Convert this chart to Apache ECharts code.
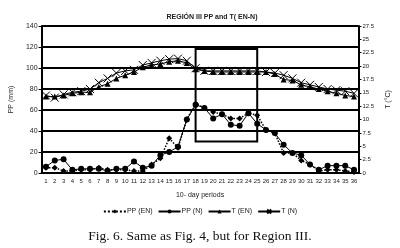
<!DOCTYPE html>
<html>
<head>
<meta charset="utf-8">
<script src="https://cdn.jsdelivr.net/npm/echarts@6/dist/echarts.min.js"></script>
<style>
  html, body { margin: 0; padding: 0; background: #fff; }
  #main { width: 400px; height: 248px; }
</style>
</head>
<body>
<div id="main"></div>
<script>
  // 10-day periods
  var periods = ['1','2','3','4','5','6','7','8','9','10','11','12','13','14','15','16','17','18',
    '19','20','21','22','23','24','25','26','27','28','29','30','31','32','33','34','35','36'];

  // precipitation (mm), left axis
  var ppEN = [5, 5, 2, 2, 3, 3, 5, 3, 3, 3, 2, 2, 8, 14, 33, 24, 51, 66,
    62, 58, 56, 52, 52, 57, 55, 41, 38, 19, 19, 12, 8, 2, 3, 3, 2, 1];
  var ppN = [6, 12, 13, 3, 4, 4, 4, 2, 4, 4, 11, 5, 7, 17, 20, 25, 51, 65,
    62, 52, 56, 46, 45, 57, 47, 41, 38, 27, 19, 17, 8, 3, 7, 7, 7, 3];

  // temperature (°C), right axis
  var tEN = [14.3, 14.3, 14.5, 14.9, 15.1, 15.1, 16.1, 16.7, 17.7, 18.3, 18.9, 19.8, 20.2, 20.4, 20.8, 21.0, 20.6, 19.4,
    19.1, 18.9, 18.9, 18.9, 18.9, 18.9, 18.9, 18.9, 18.5, 17.5, 17.3, 16.5, 16.1, 15.7, 15.3, 14.9, 14.5, 14.3];
  var tN = [14.5, 14.1, 14.7, 15.1, 15.3, 15.7, 16.9, 17.7, 18.7, 19.1, 19.3, 20.2, 20.6, 21.0, 21.3, 21.4, 21.0, 19.6,
    19.1, 19.1, 19.1, 19.1, 19.1, 19.1, 19.1, 18.9, 18.7, 18.3, 17.7, 16.9, 16.5, 16.1, 15.7, 15.5, 15.3, 14.9];

  var font = 'Arial, "Liberation Sans", sans-serif';
  var myChart = echarts.init(document.getElementById('main'));

  var option = {
    backgroundColor: '#fff',
    animation: false,
    title: {
      text: 'REGIÓN III PP and T( EN-N)',
      left: 207,
      textAlign: 'center',
      top: 9,
      textStyle: { fontSize: 7, fontWeight: 'bold', color: '#222', fontFamily: font }
    },
    legend: {
      bottom: 28,
      left: 'center',
      itemWidth: 22,
      itemHeight: 5,
      itemGap: 5,
      textStyle: { fontSize: 7, color: '#222', fontFamily: font, padding: [0, 0, 0, -4] },
      data: ['PP (EN)', 'PP (N)', 'T (EN)', 'T (N)']
    },
    grid: { left: 34, right: 33, top: 26, bottom: 75 },
    xAxis: {
      type: 'category',
      data: periods,
      name: '10- day periods',
      nameLocation: 'middle',
      nameGap: 19,
      nameTextStyle: { fontSize: 7, color: '#222', fontFamily: font },
      axisLine: { lineStyle: { color: '#000', width: 2 } },
      axisTick: { alignWithLabel: true, length: 3, lineStyle: { color: '#000' } },
      axisLabel: { fontSize: 6, color: '#222', fontFamily: font, margin: 5, interval: 0 }
    },
    yAxis: [
      {
        type: 'value',
        min: 0, max: 140, interval: 20,
        name: 'PP (mm)',
        nameLocation: 'middle',
        nameGap: 20,
        nameTextStyle: { fontSize: 7, color: '#222', fontFamily: font },
        axisLine: { show: true, lineStyle: { color: '#000', width: 2 } },
        axisTick: { show: true, length: 3, lineStyle: { color: '#000' } },
        axisLabel: { fontSize: 7, color: '#222', fontFamily: font, margin: 4 },
        splitLine: { lineStyle: { color: '#000', width: 2 } }
      },
      {
        type: 'value',
        min: 0, max: 27.5, interval: 2.5,
        name: 'T (°C)',
        nameLocation: 'middle',
        nameGap: 24,
        nameRotate: 90,
        nameTextStyle: { fontSize: 7, color: '#222', fontFamily: font, padding: [0, 0, 12, 0] },
        axisLine: { show: true, lineStyle: { color: '#000', width: 2 } },
        axisTick: { show: true, length: 3, lineStyle: { color: '#000' } },
        axisLabel: { fontSize: 6, color: '#222', fontFamily: font, margin: 4 },
        splitLine: { show: false }
      }
    ],
    graphic: [{
      type: 'text',
      left: 'center',
      top: 229,
      style: {
        text: 'Fig. 6. Same as Fig. 4, but for Region III.',
        fontSize: 13.5,
        fontFamily: '"Liberation Serif", "DejaVu Serif", serif',
        fill: '#111'
      }
    }],
    series: [
      {
        name: 'PP (EN)',
        type: 'line',
        data: ppEN,
        symbol: 'diamond',
        symbolSize: 6,
        lineStyle: { color: '#000', width: 1.5, type: 'dotted' },
        itemStyle: { color: '#000' },
        z: 3
      },
      {
        name: 'PP (N)',
        type: 'line',
        data: ppN,
        symbol: 'circle',
        symbolSize: 6,
        lineStyle: { color: '#000', width: 1 },
        itemStyle: { color: '#000' },
        markArea: {
          silent: true,
          itemStyle: { color: 'rgba(0,0,0,0)', borderColor: '#000', borderWidth: 2 },
          data: [[{ xAxis: '18', yAxis: 118 }, { xAxis: '25', yAxis: 30 }]]
        },
        z: 3
      },
      {
        name: 'T (EN)',
        type: 'line',
        yAxisIndex: 1,
        data: tEN,
        symbol: 'triangle',
        symbolSize: 6,
        lineStyle: { color: '#000', width: 1 },
        itemStyle: { color: '#000' },
        z: 3
      },
      {
        name: 'T (N)',
        type: 'line',
        yAxisIndex: 1,
        data: tN,
        symbol: 'path://M0,0L10,10M10,0L0,10',
        symbolSize: 8,
        lineStyle: { color: '#000', width: 1 },
        itemStyle: { color: 'rgba(0,0,0,0)', borderColor: '#000', borderWidth: 1 },
        z: 3
      }
    ]
  };

  myChart.setOption(option);
</script>
</body>
</html>
